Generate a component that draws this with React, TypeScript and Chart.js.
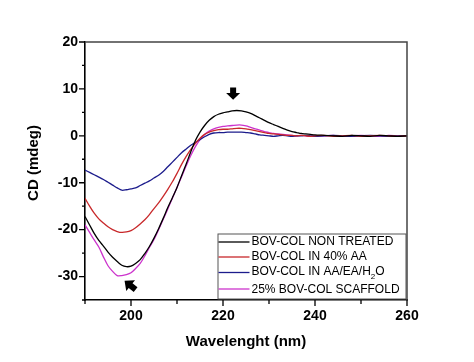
import React, { useEffect, useRef } from "react";
import { Chart, registerables } from "chart.js";

Chart.register(...registerables);

const wavelengths = [
  190, 191, 192, 193, 194, 195, 196, 197, 198, 199,
  200, 201, 202, 203, 204, 205, 206, 207, 208, 209,
  210, 211, 212, 213, 214, 215, 216, 217, 218, 219,
  220, 221, 222, 223, 224, 225, 226, 227, 228, 229,
  230, 231, 232, 233, 234, 235, 236, 237, 238, 239,
  240, 242, 244, 246, 248, 250, 252, 254, 256, 258, 260,
];

const nonTreated = [
  -17.2, -19.0, -20.8, -22.3, -23.5, -24.8, -25.9, -26.8, -27.6, -27.9,
  -27.8, -27.2, -26.4, -25.1, -23.6, -21.8, -19.8, -17.6, -15.3, -13.2,
  -11.0, -8.5, -6.0, -3.4, -1.0, 0.8, 2.2, 3.3, 4.1, 4.6,
  4.9, 5.1, 5.3, 5.4, 5.3, 5.1, 4.8, 4.3, 3.8, 3.3,
  2.8, 2.4, 2.0, 1.6, 1.2, 0.9, 0.7, 0.5, 0.4, 0.3,
  0.2, 0.1, 0.0, -0.1, 0.1, 0.0, -0.1, 0.1, 0.0, -0.1, 0.0,
];

const in40AA = [
  -13.3, -15.0, -16.5, -17.7, -18.6, -19.4, -20.0, -20.4, -20.6, -20.5,
  -20.2, -19.6, -18.8, -17.9, -16.8, -15.5, -14.3, -12.9, -11.4, -9.8,
  -8.0, -6.1, -4.4, -2.9, -1.6, -0.5, 0.3, 0.8, 1.1, 1.3,
  1.4, 1.4, 1.5, 1.6, 1.6, 1.5, 1.3, 1.1, 0.9, 0.7,
  0.5, 0.4, 0.3, 0.2, 0.1, 0.1, 0.0, 0.1, 0.0, -0.1,
  0.0, 0.1, -0.1, 0.0, 0.1, -0.1, 0.0, 0.1, 0.0, -0.1, 0.0,
];

const inAAEAH2O = [
  -7.3, -7.8, -8.3, -8.8, -9.3, -9.9, -10.5, -11.1, -11.6, -11.5,
  -11.3, -11.1, -10.6, -10.1, -9.6, -9.0, -8.4, -7.6, -6.6, -5.6,
  -4.6, -3.6, -2.8, -2.0, -1.4, -0.8, -0.2, 0.3, 0.6, 0.7,
  0.7, 0.8, 0.8, 0.8, 0.8, 0.7, 0.6, 0.4, 0.2, 0.1,
  0.0, -0.1, 0.0, 0.1, 0.0, -0.1, 0.0, 0.0, 0.1, 0.0,
  -0.1, 0.0, 0.1, 0.0, -0.1, 0.0, 0.1, 0.0, -0.1, 0.0, 0.0,
];

const scaffold25 = [
  -19.0, -20.6, -22.2, -23.7, -25.8, -27.7, -28.9, -29.8, -29.8, -29.6,
  -29.2, -28.3, -27.2, -25.6, -23.8, -22.1, -20.0, -17.8, -15.6, -13.3,
  -11.0, -8.7, -6.4, -4.2, -2.3, -0.8, 0.3, 1.0, 1.5, 1.8,
  2.0, 2.1, 2.2, 2.3, 2.3, 2.1, 1.8, 1.5, 1.2, 0.9,
  0.7, 0.5, 0.4, 0.3, 0.2, 0.1, 0.0, 0.1, 0.0, -0.1,
  0.0, 0.0, 0.1, -0.1, 0.0, 0.1, 0.0, -0.1, 0.1, 0.0, 0.0,
];

const seriesLabels = [
  "BOV-COL NON TREATED",
  "BOV-COL IN 40% AA",
  "BOV-COL IN AA/EA/H₂O",
  "25% BOV-COL SCAFFOLD",
];
const seriesColors = ["#000000", "#c8282a", "#1c1c8c", "#cc33cc"];
const seriesValues = [nonTreated, in40AA, inAAEAH2O, scaffold25];

const xTitle = "Wavelenght (nm)";
const yTitle = "CD (mdeg)";

// arrows: [tipX, tipY, tailX, tailY] in data units
const arrowTipsX = [222.2, 198.6];
const arrowTipsY = [7.7, -30.9];
const arrowTailsX = [222.2, 201.0];
const arrowTailsY = [10.3, -32.8];

const FONT = "'Liberation Sans', Arial, sans-serif";

const decorPlugin = {
  id: "decor",
  afterDraw(chart: any) {
    const ctx = chart.ctx;
    const area = chart.chartArea;
    const xs = chart.scales.x;
    const ys = chart.scales.y;
    ctx.save();

    // frame (top + right)
    ctx.strokeStyle = "#444";
    ctx.lineWidth = 1.5;
    ctx.beginPath();
    ctx.moveTo(area.left, area.top);
    ctx.lineTo(area.right, area.top);
    ctx.lineTo(area.right, area.bottom);
    ctx.stroke();

    // tick marks
    ctx.strokeStyle = "#000";
    ctx.lineWidth = 1.3;
    ctx.beginPath();
    for (const t of xs.ticks) {
      const px = xs.getPixelForValue(t.value);
      const len = t.value % 20 === 0 ? 6 : 4;
      ctx.moveTo(px, area.bottom);
      ctx.lineTo(px, area.bottom + len);
    }
    for (const t of ys.ticks) {
      const py = ys.getPixelForValue(t.value);
      const len = t.value % 10 === 0 ? 6 : 3;
      ctx.moveTo(area.left, py);
      ctx.lineTo(area.left - len, py);
    }
    ctx.stroke();

    // axis titles
    ctx.fillStyle = "#000";
    ctx.font = `bold 15px ${FONT}`;
    ctx.textAlign = "center";
    ctx.textBaseline = "middle";
    ctx.fillText(xTitle, (area.left + area.right) / 2, area.bottom + 42);
    ctx.save();
    ctx.translate(area.left - 51, (area.top + area.bottom) / 2 - 8);
    ctx.rotate(-Math.PI / 2);
    ctx.fillText(yTitle, 0, 0);
    ctx.restore();

    // arrows
    ctx.fillStyle = "#000";
    for (let i = 0; i < arrowTipsX.length; i++) {
      const tx = xs.getPixelForValue(arrowTipsX[i]);
      const ty = ys.getPixelForValue(arrowTipsY[i]);
      const sx = xs.getPixelForValue(arrowTailsX[i]);
      const sy = ys.getPixelForValue(arrowTailsY[i]);
      const ang = Math.atan2(ty - sy, tx - sx);
      const L = Math.hypot(tx - sx, ty - sy);
      ctx.save();
      ctx.translate(sx, sy);
      ctx.rotate(ang);
      const headL = L * 0.55;
      ctx.beginPath();
      ctx.moveTo(0, -3);
      ctx.lineTo(L - headL, -3);
      ctx.lineTo(L - headL, -7);
      ctx.lineTo(L, 0);
      ctx.lineTo(L - headL, 7);
      ctx.lineTo(L - headL, 3);
      ctx.lineTo(0, 3);
      ctx.closePath();
      ctx.fill();
      ctx.restore();
    }

    // legend
    const boxW = 188;
    const boxH = 65;
    const bx = area.right - 1.5 - boxW;
    const by = area.bottom - 1.5 - boxH;
    ctx.fillStyle = "#fff";
    ctx.fillRect(bx, by, boxW, boxH);
    ctx.strokeStyle = "#555";
    ctx.lineWidth = 1;
    ctx.strokeRect(bx + 0.5, by + 0.5, boxW, boxH);
    const rowY = [8.5, 23.5, 39, 55.5];
    const textY = [8.5, 23, 38.5, 56.5];
    ctx.font = `12px ${FONT}`;
    ctx.textAlign = "left";
    ctx.textBaseline = "middle";
    chart.data.datasets.forEach((ds: any, i: number) => {
      ctx.strokeStyle = ds.borderColor;
      ctx.lineWidth = 1.3;
      ctx.beginPath();
      ctx.moveTo(bx + 1, by + rowY[i]);
      ctx.lineTo(bx + 32, by + rowY[i]);
      ctx.stroke();
      ctx.fillStyle = "#000";
      let x = bx + 34;
      const y = by + textY[i];
      const parts = String(ds.label).split("₂");
      parts.forEach((p: string, j: number) => {
        ctx.font = `12px ${FONT}`;
        ctx.fillText(p, x, y);
        x += ctx.measureText(p).width;
        if (j < parts.length - 1) {
          ctx.font = `8px ${FONT}`;
          ctx.fillText("2", x, y + 5);
          x += ctx.measureText("2").width;
        }
      });
    });

    ctx.restore();
  },
};

export default function App() {
  const ref = useRef<HTMLCanvasElement | null>(null);

  useEffect(() => {
    if (!ref.current) return;
    Chart.defaults.font.family = FONT;
    const chart = new Chart(ref.current, {
      type: "line",
      data: {
        datasets: seriesValues.map((vals, i) => ({
          label: seriesLabels[i],
          data: wavelengths.map((w, k) => ({ x: w, y: vals[k] })),
          borderColor: seriesColors[i],
          backgroundColor: seriesColors[i],
          borderWidth: 1.3,
          pointRadius: 0,
          tension: 0.3,
          fill: false,
        })),
      },
      options: {
        animation: false,
        responsive: true,
        maintainAspectRatio: false,
        layout: { padding: { top: 42, right: 67, left: 0, bottom: 0 } },
        plugins: {
          legend: { display: false },
          tooltip: { enabled: false },
        },
        scales: {
          x: {
            type: "linear",
            min: 190,
            max: 260,
            afterFit: (s: any) => {
              s.height = 62;
            },
            ticks: {
              stepSize: 10,
              autoSkip: false,
              maxRotation: 0,
              padding: 2,
              color: "#000",
              font: { size: 14, weight: "bold", family: FONT },
              callback: (v: any) => (Number(v) % 20 === 0 ? String(v) : ""),
            },
            grid: {
              display: true,
              drawOnChartArea: false,
              drawTicks: true,
              tickLength: 6,
              tickColor: "rgba(0,0,0,0)",
            },
            border: { display: true, color: "#000", width: 1.6 },
          },
          y: {
            min: -35,
            max: 20,
            afterFit: (s: any) => {
              s.width = 85;
            },
            ticks: {
              stepSize: 5,
              autoSkip: false,
              padding: 1,
              color: "#000",
              font: { size: 14, weight: "bold", family: FONT },
              callback: (v: any) => (Number(v) % 10 === 0 ? String(v) : ""),
            },
            grid: {
              display: true,
              drawOnChartArea: false,
              drawTicks: true,
              tickLength: 6,
              tickColor: "rgba(0,0,0,0)",
            },
            border: { display: true, color: "#000", width: 1.6 },
          },
        },
      },
      plugins: [decorPlugin],
    });
    return () => chart.destroy();
  }, []);

  return (
    <div
      style={{
        position: "fixed",
        left: 0,
        top: 0,
        width: 474,
        height: 362,
        background: "#fff",
      }}
    >
      <canvas ref={ref} />
    </div>
  );
}
